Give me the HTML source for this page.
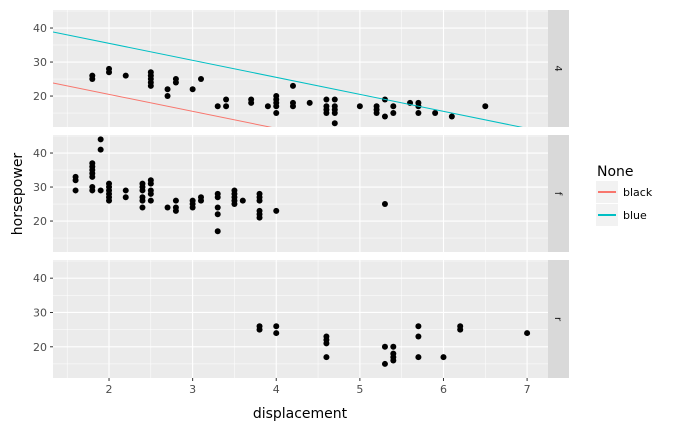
<!DOCTYPE html>
<html><head><meta charset="utf-8"><style>
body{margin:0;background:#fff;font-family:"Liberation Sans","DejaVu Sans",sans-serif}
svg text{font-family:"DejaVu Sans","Liberation Sans",sans-serif}
</style></head><body>
<svg id="chart" width="681" height="430" xmlns="http://www.w3.org/2000/svg"></svg>
<script>
const facets = ["4","f","r"];
const pts4 = [[1.8,26],[1.8,25],[2.0,28],[2.0,27],[2.2,26],[2.5,27],[2.5,26],[2.5,25],[2.5,24],[2.5,23],[2.7,22],[2.7,20],[2.8,25],[2.8,24],[3.0,22],[3.1,25],[3.3,17],[3.4,19],[3.4,17],[3.7,19],[3.7,18],[3.9,17],[4.0,20],[4.0,19],[4.0,18],[4.0,17],[4.0,15],[4.2,23],[4.2,18],[4.2,17],[4.4,18],[4.6,19],[4.6,17],[4.6,16],[4.6,15],[4.7,19],[4.7,17],[4.7,16],[4.7,15],[4.7,12],[5.0,17],[5.2,17],[5.2,16],[5.2,15],[5.3,19],[5.3,14],[5.4,17],[5.4,15],[5.6,18],[5.7,18],[5.7,17],[5.7,15],[5.9,15],[6.1,14],[6.5,17]];
const ptsF = [[1.6,33],[1.6,32],[1.6,29],[1.8,37],[1.8,36],[1.8,35],[1.8,34],[1.8,33],[1.8,30],[1.8,29],[1.9,44],[1.9,41],[1.9,29],[2.0,31],[2.0,30],[2.0,29],[2.0,28],[2.0,27],[2.0,26],[2.2,29],[2.2,27],[2.4,31],[2.4,30],[2.4,29],[2.4,27],[2.4,26],[2.4,24],[2.5,32],[2.5,31],[2.5,29],[2.5,28],[2.5,26],[2.7,24],[2.8,26],[2.8,24],[2.8,23],[3.0,26],[3.0,25],[3.0,24],[3.1,27],[3.1,26],[3.3,28],[3.3,27],[3.3,24],[3.3,22],[3.3,17],[3.5,29],[3.5,28],[3.5,27],[3.5,26],[3.5,25],[3.6,26],[3.8,28],[3.8,27],[3.8,26],[3.8,23],[3.8,22],[3.8,21],[4.0,23],[5.3,25]];
const ptsR = [[3.8,26],[3.8,25],[4.0,26],[4.0,24],[4.6,23],[4.6,22],[4.6,21],[4.6,17],[5.3,20],[5.3,15],[5.4,20],[5.4,18],[5.4,17],[5.4,16],[5.7,26],[5.7,23],[5.7,17],[6.0,17],[6.2,26],[6.2,25],[7.0,24]];
const xTicks = [2,3,4,5,6,7];
const yTicks = [20,30,40];
const lineNames = ["black","blue"];
const lineIntercepts = [30.5,45.5];
const lineSlopes = [-5,-5];
const lineColors = ["#F8766D","#00BFC4"];

const NS="http://www.w3.org/2000/svg", svg=document.getElementById('chart');
function mk(t,a,p){const e=document.createElementNS(NS,t);for(const k in a)e.setAttribute(k,a[k]);(p||svg).appendChild(e);return e;}
const X0=53,X1=548,xd=[1.33,7.25];
const sx=v=>X0+(v-xd[0])/(xd[1]-xd[0])*(X1-X0);
const yd=[10.9,45.3];
const panels=[[10,127],[135,252],[260,378]];
const data=[pts4,ptsF,ptsR];
panels.forEach((p,i)=>{
  const [T,B]=p; const sy=v=>B-(v-yd[0])/(yd[1]-yd[0])*(B-T);
  const g=mk('g',{});  
  mk('rect',{x:X0,y:T,width:X1-X0,height:B-T,fill:'#EBEBEB'},g);
  const cp=mk('clipPath',{id:'c'+i},g); mk('rect',{x:X0,y:T,width:X1-X0,height:B-T},cp);
  [15,25,35,45].forEach(v=>mk('line',{x1:X0,x2:X1,y1:sy(v),y2:sy(v),stroke:'#fff','stroke-width':0.5},g));
  [1.5,2.5,3.5,4.5,5.5,6.5].forEach(v=>mk('line',{x1:sx(v),x2:sx(v),y1:T,y2:B,stroke:'#fff','stroke-width':0.5},g));
  yTicks.forEach(v=>{mk('line',{x1:X0,x2:X1,y1:sy(v),y2:sy(v),stroke:'#fff','stroke-width':1.1},g);
    mk('line',{x1:X0-3,x2:X0,y1:sy(v),y2:sy(v),stroke:'#333'},g);
    const t=mk('text',{x:X0-6,y:sy(v)+4,'text-anchor':'end','font-size':11,fill:'#4d4d4d'},g);t.textContent=v;
    });
  xTicks.forEach(v=>mk('line',{x1:sx(v),x2:sx(v),y1:T,y2:B,stroke:'#fff','stroke-width':1.1},g));
  data[i].forEach(d=>{const c=mk('circle',{cx:sx(d[0]),cy:sy(d[1]),r:3,fill:'#000'},g);
    });
  if(i===0){lineNames.forEach((n,j)=>{const l=mk('line',{x1:sx(xd[0]),x2:sx(xd[1]),y1:sy(lineIntercepts[j]+lineSlopes[j]*xd[0]),y2:sy(lineIntercepts[j]+lineSlopes[j]*xd[1]),stroke:lineColors[j],'stroke-width':1,'clip-path':'url(#c'+i+')'},g);
    });}
  const s=mk('rect',{x:X1,y:T,width:21,height:B-T,fill:'#D9D9D9'},g);
  
  const st=mk('text',{x:0,y:0,'font-size':10,fill:'#1a1a1a','text-anchor':'middle',transform:`translate(${X1+7},${(T+B)/2}) rotate(90)`},g);st.textContent=facets[i];
});
xTicks.forEach(v=>{mk('line',{x1:sx(v),x2:sx(v),y1:378,y2:381,stroke:'#333'});
  const t=mk('text',{x:sx(v),y:393,'text-anchor':'middle','font-size':11,fill:'#4d4d4d'});t.textContent=v;
  });
let t=mk('text',{x:300,y:418,'text-anchor':'middle','font-size':14,fill:'#000'});t.textContent='displacement';

t=mk('text',{x:0,y:0,'text-anchor':'middle','font-size':14,fill:'#000',transform:'translate(22,194) rotate(-90)'});t.textContent='horsepower';

t=mk('text',{x:597,y:176,'font-size':14,fill:'#000'});t.textContent='None';

lineNames.forEach((n,j)=>{const y=181+j*23;const g=mk('g',{});
  
  mk('rect',{x:596,y:y,width:22,height:22,fill:'#F2F2F2'},g);
  mk('line',{x1:598,x2:616,y1:y+11,y2:y+11,stroke:lineColors[j],'stroke-width':2},g);
  const tt=mk('text',{x:623,y:y+15,'font-size':11,fill:'#000'},g);tt.textContent=n;});
</script>
</body></html>
